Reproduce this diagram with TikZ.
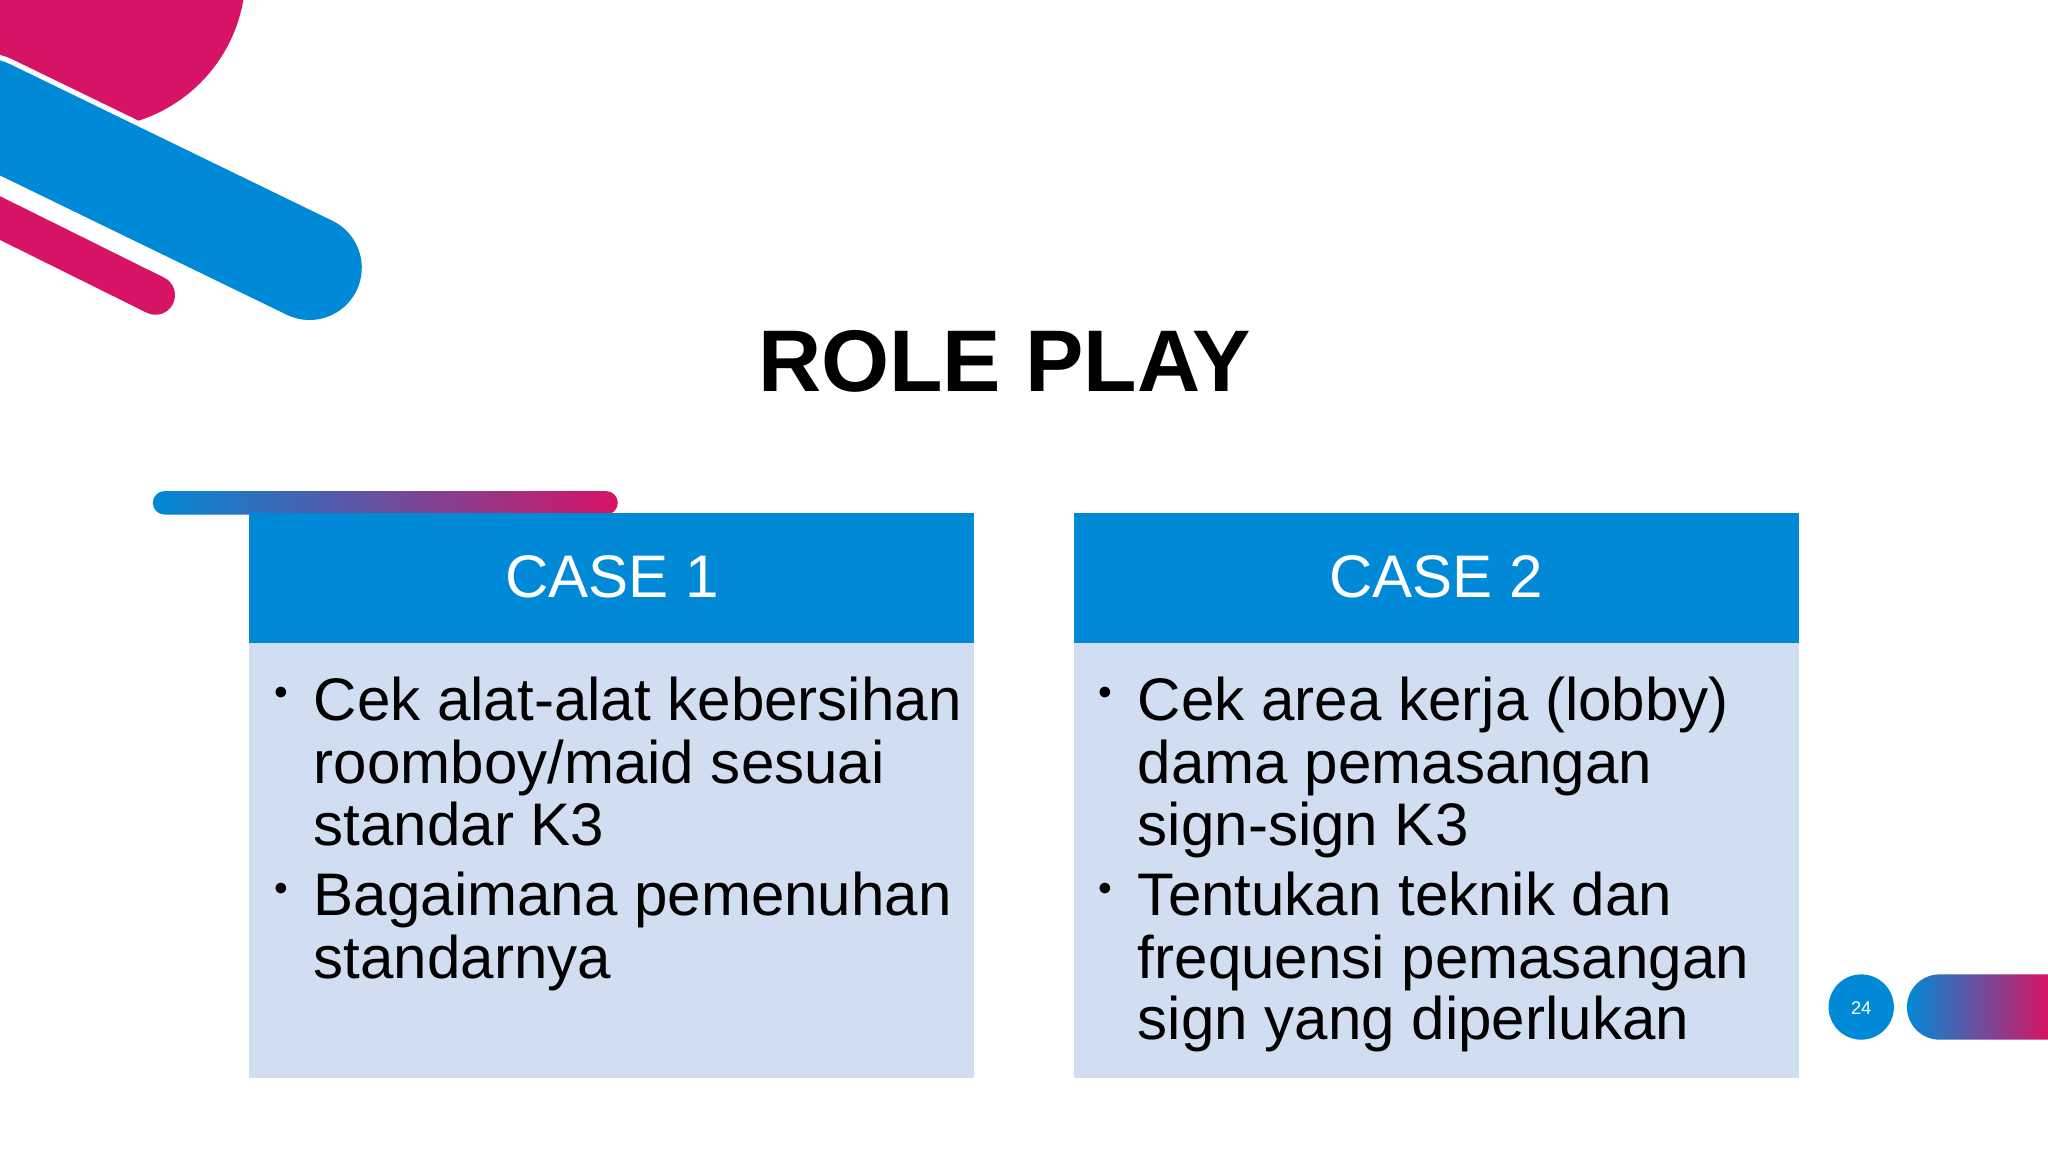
\documentclass[tikz,border=0pt]{standalone}
\usepackage{fontspec}
\setmainfont{Liberation Sans}
\tikzset{
  x=1pt,y=-1pt,
  hdr/.style={fill=cblue,draw=none},
  bodybox/.style={fill=clight,draw=none},
  htext/.style={text=white,font=\fontsize{46}{50}\selectfont},
  btext/.style={anchor=base west,inner sep=0,font=\fontsize{46}{48}\selectfont},
}
\definecolor{cblue}{RGB}{0,137,214}
\definecolor{cmag}{RGB}{214,19,101}
\definecolor{clight}{RGB}{209,221,240}
\begin{document}
\begin{tikzpicture}
\useasboundingbox (0,0) rectangle (1568,882);
\fill[white] (0,0) rectangle (1568,882);
% decoration top-left
\begin{scope}
\clip (0,0) rectangle (1568,882);
\fill[cmag] (70,-20) circle (118);
\draw[white,line width=88,line cap=round] (-10,85) -- (237,205);
\draw[cblue,line width=80,line cap=round] (-10,85) -- (237,205);
\draw[cmag,line width=30,line cap=round] (-10,162) -- (119,226);
\end{scope}
% title
\node[font=\fontsize{67}{70}\selectfont\bfseries,anchor=base] (title) at (769,300) {ROLE PLAY};
% gradient bar
\shade[left color=cblue,right color=cmag,rounded corners=9] (117,376) rectangle (473,394);
% boxes
\fill[bodybox] (191,492) rectangle (746,825);
\fill[hdr] (191,393) rectangle (746,492);
\node[htext] (h1) at (468.5,442) {CASE 1};
\fill[bodybox] (822,492) rectangle (1377,825);
\fill[hdr] (822,393) rectangle (1377,492);
\node[htext] (h2) at (1099.5,442) {CASE 2};
% case 1 text
\node[btext] (b1) at (210,540) {\fontsize{30}{30}\selectfont•};
\node[btext] (l1) at (240,552) {Cek alat-alat kebersihan};
\node[btext] (l2) at (240,600) {roomboy/maid sesuai};
\node[btext] (l3) at (240,647) {standar K3};
\node[btext] (b2) at (210,690) {\fontsize{30}{30}\selectfont•};
\node[btext] (l4) at (240,701) {Bagaimana pemenuhan};
\node[btext] (l5) at (240,749) {standarnya};
% case 2 text
\node[btext] (c1) at (841,540) {\fontsize{30}{30}\selectfont•};
\node[btext] (m1) at (871,552) {Cek area kerja (lobby)};
\node[btext] (m2) at (871,600) {dama pemasangan};
\node[btext] (m3) at (871,647) {sign-sign K3};
\node[btext] (c2) at (841,690) {\fontsize{30}{30}\selectfont•};
\node[btext] (m4) at (871,701) {Tentukan teknik dan};
\node[btext] (m5) at (871,749) {frequensi pemasangan};
\node[btext] (m6) at (871,796) {sign yang diperlukan};
% page number
\fill[cblue] (1425,771) circle (25);
\node[text=white,font=\fontsize{14}{14}\selectfont] (pg) at (1425,772) {24};
\shade[left color=cblue,right color=cmag] (1485,746) arc[start angle=-90,end angle=-270,radius=25] -- (1568,796) -- (1568,746) -- cycle;
\end{tikzpicture}
\end{document}
